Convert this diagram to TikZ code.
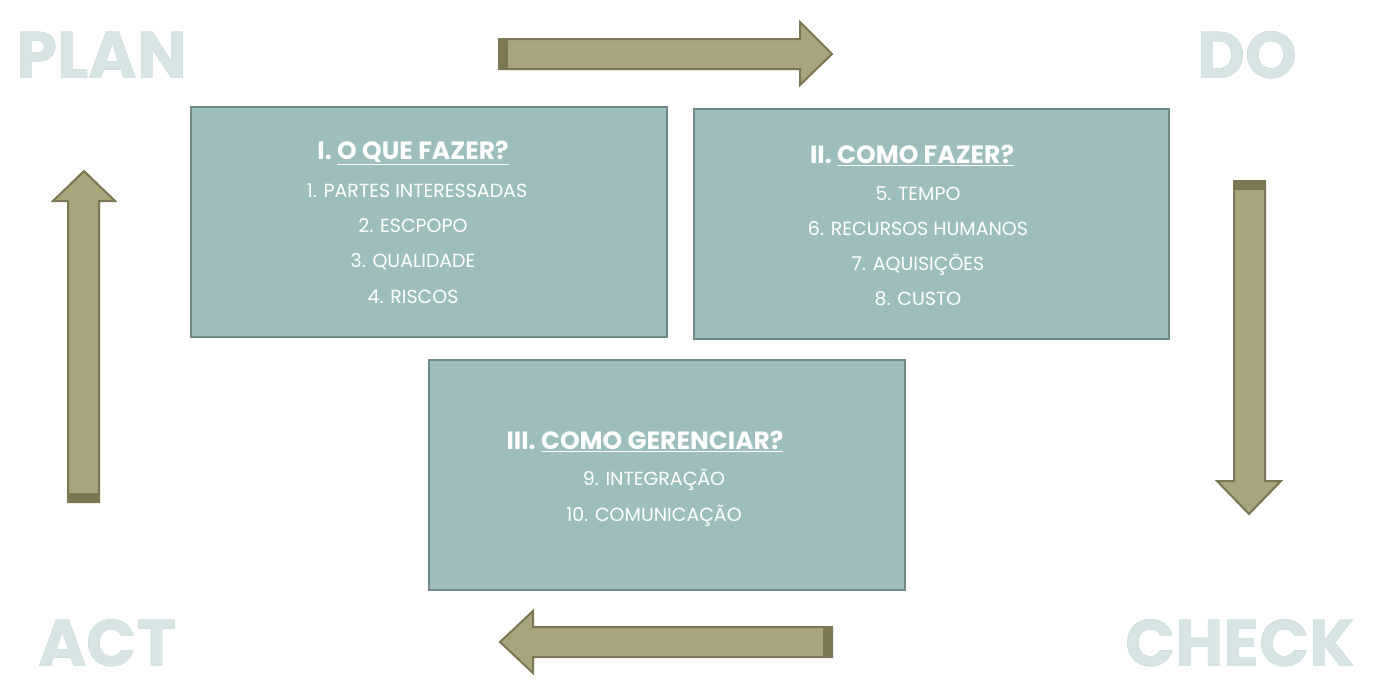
\documentclass[tikz,border=0pt]{standalone}
\usepackage{fontspec}
\setmainfont{Poppins}
\usepackage[outline]{contour}
\contourlength{2.2pt}
\definecolor{boxf}{HTML}{9DBEBC}
\definecolor{boxd}{HTML}{6F8A88}
\definecolor{arrf}{HTML}{A8A47C}
\definecolor{arrd}{HTML}{7A7752}
\definecolor{lett}{HTML}{D6E5E4}
\begin{document}
\begin{tikzpicture}[x=1pt,y=-1pt,
 box/.style={draw=boxd,line width=2pt,fill=boxf},
 arr/.style={draw=arrd,line width=2pt,fill=arrf,line join=miter},
 big/.style={font=\fontsize{66}{66}\bfseries,text=lett,inner sep=0},
 ttl/.style={font=\fontsize{25}{30}\bfseries,text=white,inner sep=0},
 itm/.style={font=\fontsize{19}{22}\selectfont,text=white,inner sep=0}]
\useasboundingbox (0,0) rectangle (1374,694);
\node[big,anchor=west] (plan) at (16,55) {\contour{boxf}{PLAN}};
\node[big,anchor=east] (do) at (1298,55) {\contour{boxf}{DO}};
\node[big,anchor=west] (act) at (38,643) {\contour{boxf}{ACT}};
\node[big,anchor=east] (check) at (1356,643) {\contour{boxf}{CHECK}};
% arrows
\draw[arr] (499,39) -- (800,39) -- (800,22) -- (832,54) -- (800,85) -- (800,69) -- (499,69) -- cycle;
\fill[arrd] (499,39) rectangle (508,69);
\draw[arr] (1234,181) -- (1265,181) -- (1265,481) -- (1281,481) -- (1249,514) -- (1217,481) -- (1234,481) -- cycle;
\fill[arrd] (1234,181) rectangle (1265,190);
\draw[arr] (832,627) -- (533,627) -- (533,611) -- (500,642) -- (533,673) -- (533,657) -- (832,657) -- cycle;
\fill[arrd] (823,627) rectangle (832,657);
\draw[arr] (68,502) -- (68,201) -- (53,201) -- (84,171) -- (115,201) -- (99,201) -- (99,502) -- cycle;
\fill[arrd] (68,493) rectangle (99,502);
% boxes
\node[box,minimum width=476,minimum height=230,anchor=north west] (b1) at (190,106) {};
\node[box,minimum width=475,minimum height=230,anchor=north west] (b2) at (693,108) {};
\node[box,minimum width=476,minimum height=230,anchor=north west] (b3) at (428,359) {};
\node[ttl] (t1) at (413,153) {I. \underline{O QUE FAZER?}};
\node[itm] (i1) at (417,191) {1. PARTES INTERESSADAS};
\node[itm] (i2) at (413,226) {2. ESCPOPO};
\node[itm] (i3) at (413,262) {3. QUALIDADE};
\node[itm] (i4) at (413,297) {4. RISCOS};
\node[ttl] (t2) at (912,155) {II. \underline{COMO FAZER?}};
\node[itm] (j1) at (918,194) {5. TEMPO};
\node[itm] (j2) at (918,229) {6. RECURSOS HUMANOS};
\node[itm] (j3) at (918,265) {7. AQUISIÇÕES};
\node[itm] (j4) at (918,299) {8. CUSTO};
\node[ttl] (t3) at (645,441) {III. \underline{COMO GERENCIAR?}};
\node[itm] (k1) at (654,480) {9. INTEGRAÇÃO};
\node[itm] (k2) at (654,516) {10. COMUNICAÇÃO};
\end{tikzpicture}
\end{document}
